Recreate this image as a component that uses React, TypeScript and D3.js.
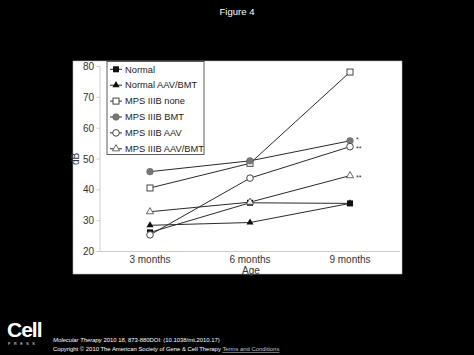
import React from "react";
import * as d3 from "d3";

const categories = ["3 months", "6 months", "9 months"];
const seriesNames = ["Normal", "Normal AAV/BMT", "MPS IIIB none", "MPS IIIB BMT", "MPS IIIB AAV", "MPS IIIB AAV/BMT"];
const normal = [26.2, 35.8, 35.6];
const normalAavBmt = [28.5, 29.4, 35.6];
const mpsNone = [40.6, 48.6, 78.2];
const mpsBmt = [45.9, 49.4, 55.9];
const mpsAav = [25.4, 43.8, 54.0];
const mpsAavBmt = [32.9, 36.0, 44.6];
const significance = ["", "", "", "*", "**", "**"];
const yTicks = [20, 30, 40, 50, 60, 70, 80];

const seriesValues = [normal, normalAavBmt, mpsNone, mpsBmt, mpsAav, mpsAavBmt];
const markers = ["sq-fill", "tri-fill", "sq-open", "circ-fill", "circ-open", "tri-open"];

const LINE = "#2a2a2a";
const FONT = "'Liberation Sans', Arial, Helvetica, sans-serif";

function Marker({ kind, x, y }: { kind: string; x: number; y: number }) {
  const s = 3;
  if (kind === "sq-fill") return <rect x={x - s} y={y - s} width={2 * s} height={2 * s} fill="#111" />;
  if (kind === "sq-open") return <rect x={x - s} y={y - s} width={2 * s} height={2 * s} fill="#fff" stroke="#444" strokeWidth={1} />;
  if (kind === "circ-fill") return <circle cx={x} cy={y} r={3.3} fill="#777" stroke="#666" strokeWidth={0.6} />;
  if (kind === "circ-open") return <circle cx={x} cy={y} r={3.3} fill="#fff" stroke="#444" strokeWidth={1} />;
  const t = d3.symbol(d3.symbolTriangle, 22)();
  if (kind === "tri-fill") return <path d={t || ""} transform={`translate(${x},${y})`} fill="#111" />;
  return <path d={t || ""} transform={`translate(${x},${y})`} fill="#fff" stroke="#555" strokeWidth={0.9} />;
}

export default function App() {
  const W = 474, H = 355;
  const x = d3.scalePoint<string>().domain(categories).range([100, 400]).padding(0.5);
  const y = d3.scaleLinear().domain([20, 80]).range([251.5, 66.5]);
  const line = d3.line<number>().x((_, i) => x(categories[i]) as number).y((d) => y(d));

  return (
    <svg width={W} height={H} style={{ position: "absolute", left: 0, top: 0, background: "#000" }}>
      <rect x={0} y={0} width={W} height={H} fill="#000" />
      <text x={237} y={15} textAnchor="middle" fill="#fff" fontFamily={FONT} fontSize={9.5}>Figure 4</text>
      <rect x={73} y={61} width={329} height={213} fill="#fff" stroke="#bbb" strokeWidth={0.6} />

      {/* axes */}
      <line x1={100} x2={100} y1={y(80)} y2={y(20)} stroke="#ccc" strokeWidth={1} />
      <line x1={100} x2={400} y1={y(20)} y2={y(20)} stroke="#ccc" strokeWidth={1} />
      {yTicks.map((t) => (
        <g key={t}>
          <line x1={96.5} x2={100} y1={y(t)} y2={y(t)} stroke="#ccc" strokeWidth={1} />
          <text x={94} y={y(t)} dy="0.35em" textAnchor="end" fontFamily={FONT} fontSize={10} fill="#333">{t}</text>
        </g>
      ))}
      {categories.map((c) => (
        <text key={c} x={x(c)} y={262.5} textAnchor="middle" fontFamily={FONT} fontSize={10} fill="#333">{c}</text>
      ))}
      <text x={251} y={273.5} textAnchor="middle" fontFamily={FONT} fontSize={10} fill="#333">Age</text>
      <text transform="translate(79,159) rotate(-90)" textAnchor="middle" fontFamily={FONT} fontSize={10} fill="#333">dB</text>

      {/* series */}
      {seriesValues.map((vals, i) => (
        <path key={"l" + i} d={line(vals) || ""} fill="none" stroke={LINE} strokeWidth={1} />
      ))}
      {seriesValues.map((vals, i) =>
        vals.map((v, j) => <Marker key={`m${i}-${j}`} kind={markers[i]} x={x(categories[j]) as number} y={y(v)} />)
      )}
      {seriesValues.map((vals, i) =>
        significance[i] ? (
          <text key={"s" + i} x={(x(categories[2]) as number) + 6} y={y(vals[2]) + (significance[i].length === 1 ? 1.5 : 4)} fontFamily={FONT} fontSize={7} fill="#333">{significance[i]}</text>
        ) : null
      )}

      {/* legend */}
      <rect x={107} y={61.5} width={97} height={93} fill="#fff" stroke="#333" strokeWidth={0.8} />
      {seriesNames.map((n, i) => {
        const ly = 69.3 + i * 15.9;
        return (
          <g key={n}>
            <line x1={110} x2={122} y1={ly} y2={ly} stroke={LINE} strokeWidth={1} />
            <Marker kind={markers[i]} x={116} y={ly} />
            <text x={125} y={ly} dy="0.35em" fontFamily={FONT} fontSize={9.3} fill="#222">{n}</text>
          </g>
        );
      })}

      {/* footer */}
      <text x={7} y={337} fontFamily={FONT} fontWeight="bold" fontSize={21} fill="#fff" letterSpacing={-1}>Cell</text>
      <text x={8} y={345} fontFamily={FONT} fontSize={3.6} fill="#fff" letterSpacing={3.6}>PRESS</text>
      <text x={53} y={342} fontFamily={FONT} fontSize={5.9} fill="#fff">
        <tspan fontStyle="italic">Molecular Therapy</tspan> 2010 18, 873-880DOI: (10.1038/mt.2010.17)
      </text>
      <text x={53} y={351} fontFamily={FONT} fontSize={5.9} fill="#fff">
        Copyright © 2010 The American Society of Gene &amp; Cell Therapy{" "}
        <tspan fill="#b8c4d8" textDecoration="underline">Terms and Conditions</tspan>
      </text>
    </svg>
  );
}
